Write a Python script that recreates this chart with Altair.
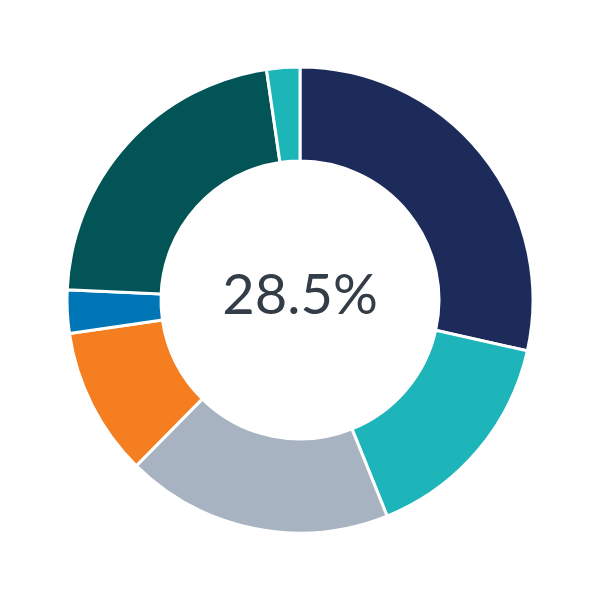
import altair as alt
import pandas as pd

categories = ["A", "B", "C", "D", "E", "F", "G"]
values = [28.5, 15.4, 18.5, 10.3, 3.0, 22.0, 2.3]
colors = ["#1c2b5a", "#1db5b9", "#a8b3c1", "#f47e20", "#0076b6", "#025456", "#1cb5b8"]
center_label = "28.5%"

df = pd.DataFrame({"cat": categories, "value": values, "idx": list(range(len(categories)))})

arcs = alt.Chart(df).mark_arc(innerRadius=139, outerRadius=233, stroke="white", strokeWidth=3).encode(
    theta=alt.Theta("value:Q", stack=True),
    order=alt.Order("idx:Q"),
    color=alt.Color("cat:N", scale=alt.Scale(domain=categories, range=colors), legend=None),
)

text = alt.Chart(pd.DataFrame({"t": [center_label]})).mark_text(
    font="Lato", fontSize=56, color="#333d47", fontWeight=400, baseline="middle", align="center", dy=-3
).encode(text="t:N")

chart = (arcs + text).properties(
    width=584, height=584, padding=0,
    autosize=alt.AutoSizeParams(type="fit", contains="padding"),
).configure_view(stroke=None)

chart.save("out.html", embed_options={"renderer": "svg", "actions": False})
